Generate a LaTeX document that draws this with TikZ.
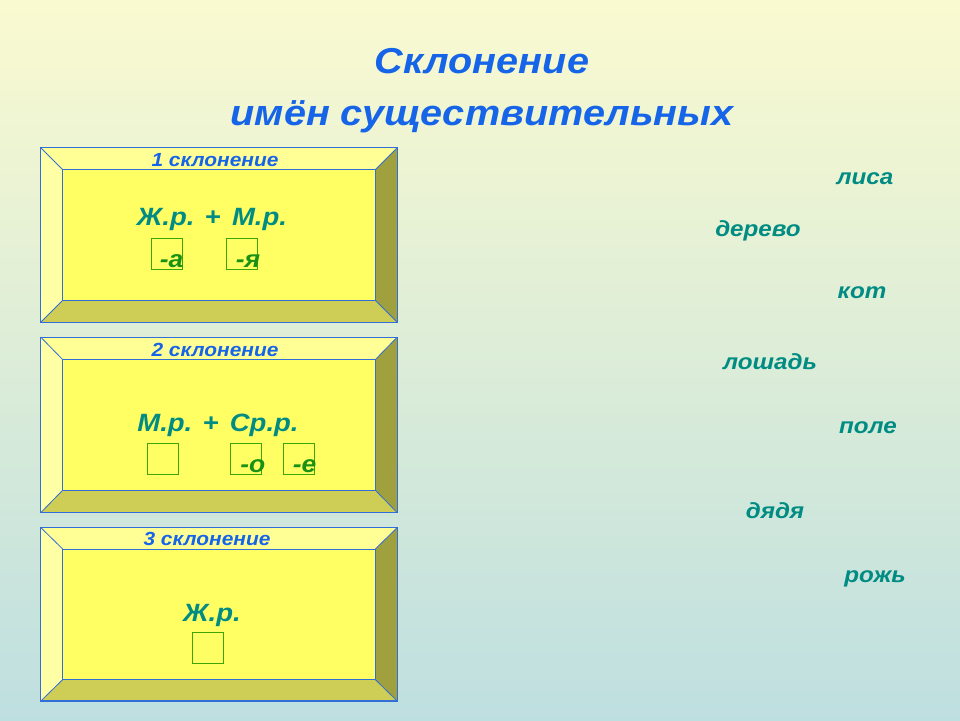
\documentclass[tikz,border=0pt]{standalone}
\usepackage{fontspec}
\setmainfont{Liberation Sans}
\newfontfamily\widefont[FakeStretch=1.1]{Liberation Sans}
\usetikzlibrary{positioning}

\definecolor{bgtop}{RGB}{250,250,208}
\definecolor{bgbottom}{RGB}{190,223,224}
\definecolor{titleblue}{RGB}{22,100,232}
\definecolor{wordteal}{RGB}{0,140,130}
\definecolor{endgreen}{RGB}{25,145,20}
\definecolor{boxgreen}{RGB}{60,165,0}
\definecolor{facefill}{RGB}{255,255,100}
\definecolor{bevtop}{RGB}{255,255,150}
\definecolor{bevleft}{RGB}{255,255,165}
\definecolor{bevright}{RGB}{160,160,62}
\definecolor{bevbottom}{RGB}{206,206,86}
\definecolor{bevline}{RGB}{50,110,215}

\begin{document}
\begin{tikzpicture}[x=1pt, y=-1pt, font=\widefont\bfseries\itshape,
    frame/.style={rectangle, minimum width=356pt, inner sep=0pt},
    face/.style={rectangle, minimum width=312pt, inner sep=0pt},
    declension/.style={text=titleblue, inner sep=0pt, font=\widefont\fontsize{19}{22}\selectfont\bfseries\itshape},
    gender/.style={text=wordteal, inner sep=0pt, font=\widefont\fontsize{25}{30}\selectfont\bfseries\itshape},
    endbox/.style={rectangle, draw=boxgreen, line width=0.9pt, minimum size=31pt, inner sep=0pt},
    ending/.style={text=endgreen, inner sep=0pt, anchor=base east, font=\widefont\fontsize{24}{28}\selectfont\bfseries\itshape},
    word/.style={text=wordteal, inner sep=0pt, font=\widefont\fontsize{22}{26}\selectfont\bfseries\itshape}]
    \begin{scope}
        % Background
        \shade[top color=bgtop, bottom color=bgbottom] (0,0) rectangle (960,720);
        \useasboundingbox (0,0) rectangle (960,720);

        % Title
        \node[text=titleblue, align=center, font=\widefont\fontsize{36}{52}\selectfont\bfseries\itshape] (title) at (482,91) {Склонение\\имён существительных};

        % Three bevelled boxes
        \node[frame, minimum height=174pt] (outer1) at (219,235) {};
        \node[frame, minimum height=175pt, below=15pt of outer1] (outer2) {};
        \node[frame, minimum height=173pt, below=15pt of outer2] (outer3) {};
        \node[face, minimum height=130pt] (face1) at (outer1.center) {};
        \node[face, minimum height=130pt] (face2) at (outer2.center) {};
        \node[face, minimum height=130pt] (face3) at (outer3.center) {};

        \foreach \i in {1,2,3} {
            \fill[bevtop] (outer\i.north west) -- (face\i.north west) -- (face\i.north east) -- (outer\i.north east) -- cycle;
            \fill[bevleft] (outer\i.north west) -- (face\i.north west) -- (face\i.south west) -- (outer\i.south west) -- cycle;
            \fill[bevright] (outer\i.north east) -- (face\i.north east) -- (face\i.south east) -- (outer\i.south east) -- cycle;
            \fill[bevbottom] (outer\i.south west) -- (face\i.south west) -- (face\i.south east) -- (outer\i.south east) -- cycle;
            \draw[bevline, line width=0.8pt, fill=facefill] (face\i.north west) rectangle (face\i.south east);
            \draw[bevline, line width=0.8pt] (outer\i.north west) -- (face\i.north west)
                (outer\i.north east) -- (face\i.north east)
                (outer\i.south west) -- (face\i.south west)
                (outer\i.south east) -- (face\i.south east);
            \draw[bevline, line width=1.3pt] (outer\i.north west) rectangle (outer\i.south east);
        }

        % Box headings
        \node[declension] (decl1) at ([xshift=-4pt, yshift=-12pt]outer1.north) {1 склонение};
        \node[declension] (decl2) at ([xshift=-4pt, yshift=-13pt]outer2.north) {2 склонение};
        \node[declension] (decl3) at ([xshift=-12pt, yshift=-11pt]outer3.north) {3 склонение};

        % First declension
        \node[gender] (gender1) at (212,219) {Ж.р. +\hspace{0.45em}М.р.};
        \node[endbox] (end1a) at (166.5,254) {};
        \node[endbox] (end1b) at (241.5,254) {};
        \node[ending] (suffix1a) at ([xshift=1pt, yshift=2pt]end1a.south east) {-а};
        \node[ending] (suffix1b) at ([xshift=3pt, yshift=2pt]end1b.south east) {-я};

        % Second declension
        \node[gender] (gender2) at (218,425) {М.р. +\hspace{0.45em}Ср.р.};
        \node[endbox] (end2a) at (162.5,458.5) {};
        \node[endbox] (end2b) at (245.5,458.5) {};
        \node[endbox] (end2c) at (298.5,458.5) {};
        \node[ending] (suffix2b) at ([xshift=4pt, yshift=2pt]end2b.south east) {-о};
        \node[ending] (suffix2c) at ([xshift=2pt, yshift=2pt]end2c.south east) {-е};

        % Third declension
        \node[gender] (gender3) at (212,615) {Ж.р.};
        \node[endbox] (end3) at (207.5,647.5) {};

        % Words to sort
        \node[word] (lisa) at (865,179) {лиса};
        \node[word] (derevo) at (758,231) {дерево};
        \node[word] (kot) at (862,293) {кот};
        \node[word] (loshad) at (770,362) {лошадь};
        \node[word] (pole) at (868,428) {поле};
        \node[word] (dyadya) at (775,511) {дядя};
        \node[word] (rozh) at (875,579) {рожь};
    \end{scope}
\end{tikzpicture}
\end{document}
